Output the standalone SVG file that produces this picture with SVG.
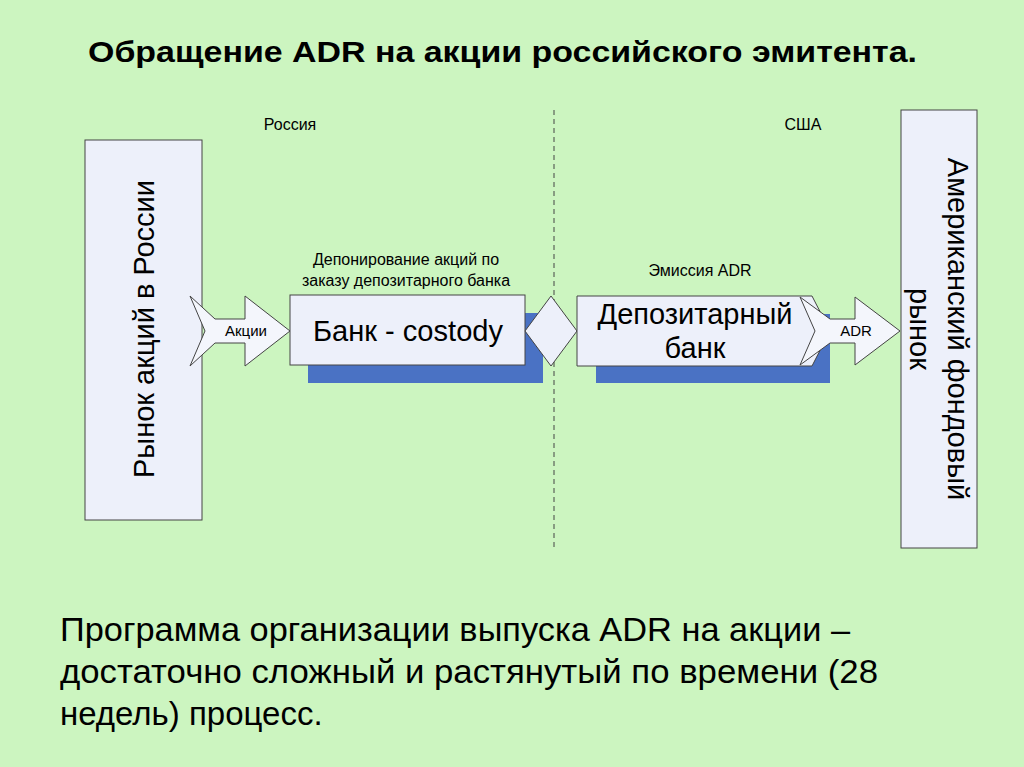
<svg xmlns="http://www.w3.org/2000/svg" width="1024" height="767" viewBox="0 0 1024 767">
<style>
text{font-family:"Liberation Sans",Arial,sans-serif;fill:#000}
.box{fill:#edf0fa;stroke:#444;stroke-width:1}
.sh{fill:#4a72c4}
.sm{font-size:16px}
.big{font-size:29px}
.ar{fill:#f4f6fc;stroke:#444;stroke-width:1}
</style>
<rect width="1024" height="767" fill="#ccf5c0"/>
<text x="88" y="62" font-weight="bold" font-size="30" textLength="829" lengthAdjust="spacingAndGlyphs">Обращение ADR на акции российского эмитента.</text>
<g id="connectors">
<line x1="554" y1="110" x2="554" y2="548" stroke="#444" stroke-dasharray="5,4"/>
</g>
<text class="sm" x="290" y="130" text-anchor="middle">Россия</text>
<text class="sm" x="803" y="130" text-anchor="middle">США</text>
<g id="market-ru"><rect class="box" x="85" y="140" width="117" height="380"/>
<text class="big" transform="translate(154,329) rotate(-90)" text-anchor="middle">Рынок акций в России</text></g>
<g id="market-us"><rect class="box" x="901" y="110" width="76" height="438"/>
<text class="big" transform="translate(948,329) rotate(90)" text-anchor="middle"><tspan x="0" y="0">Американский фондовый</tspan><tspan x="0" y="38">рынок</tspan></text></g>
<g id="arrow-shares"><polygon class="ar" points="190,296 215,319 245,319 245,296 290,331 245,366 245,343 215,343 190,366 205,331"/>
<text x="246" y="336" text-anchor="middle" font-size="15">Акции</text></g>
<g id="bank-custody"><rect class="sh" x="308" y="313" width="235" height="70"/>
<rect class="box" x="290" y="295" width="235" height="70"/>
<text x="408" y="341" text-anchor="middle" font-size="29" textLength="190" lengthAdjust="spacingAndGlyphs">Банк - costody</text>
<text class="sm" x="406" y="265" text-anchor="middle">Депонирование акций по</text>
<text class="sm" x="406" y="286" text-anchor="middle">заказу депозитарного банка</text></g>
<g id="diamond"><polygon class="box" points="551,296 577,331 551,366 525,331"/></g>
<g id="depositary"><rect class="sh" x="596" y="314" width="234" height="69"/>
<polygon class="box" points="577,296 812,296 830,331 812,366 577,366"/>
<text x="695" y="324" text-anchor="middle" font-size="29" textLength="195" lengthAdjust="spacingAndGlyphs">Депозитарный</text>
<text x="695" y="358" text-anchor="middle" font-size="29">банк</text>
<text class="sm" x="700" y="276" text-anchor="middle">Эмиссия ADR</text></g>
<g id="arrow-adr"><polygon class="ar" points="800,297 830,319 855,319 855,297 900,331 855,365 855,343 830,343 800,365 815,331"/>
<text x="856" y="336" text-anchor="middle" font-size="15">ADR</text></g>
<text font-size="33"><tspan x="60" y="641" textLength="790" lengthAdjust="spacingAndGlyphs">Программа организации выпуска ADR на акции –</tspan><tspan x="60" y="683" textLength="818" lengthAdjust="spacingAndGlyphs">достаточно сложный и растянутый по времени  (28</tspan><tspan x="60" y="725">недель) процесс.</tspan></text>
</svg>
